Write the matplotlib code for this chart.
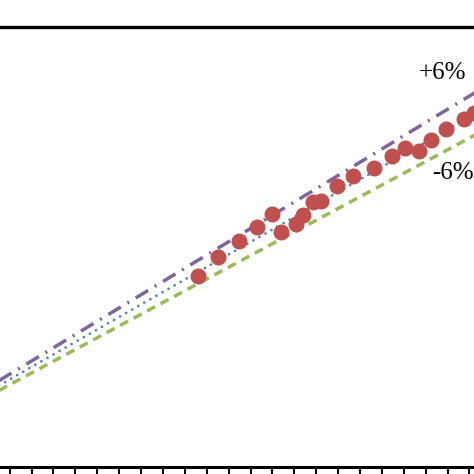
import numpy as np
import matplotlib
matplotlib.use("Agg")
import matplotlib.pyplot as plt

measured = [15.62, 16.53, 17.49, 18.28, 18.97, 19.38, 20.08, 20.41, 20.87, 21.21,
            21.97, 22.69, 23.64, 24.45, 25.05, 25.69, 26.24, 26.93, 27.73, 28.21]
predicted = [15.28, 16.78, 18.10, 19.22, 20.24, 18.80, 19.42, 20.16, 21.18, 21.30,
             22.52, 23.28, 23.94, 24.88, 25.50, 25.28, 26.20, 27.08, 27.88, 28.36]

# reference lines: y = x and +/- 6 %
ref_x = np.array([0, 40])
band = 0.06

fig = plt.figure(figsize=(4.74, 4.74), dpi=100)
ax = fig.add_axes([0, 7 / 474, 1, 440 / 474])

ax.plot(ref_x, ref_x * (1 + band), color="#8064A2", lw=2.5,
        dashes=(4.2, 2.2, 0.6, 2.2), zorder=2)
ax.plot(ref_x, ref_x, color="#4F81BD", lw=2.0, dashes=(0.01, 2.5),
        dash_capstyle="round", zorder=2)
ax.plot(ref_x, ref_x * (1 - band), color="#9BBB59", lw=2.5,
        dashes=(2.6, 1.8), zorder=2)

ax.plot(measured, predicted, "o", color="#C0504D", markersize=10.5,
        markeredgecolor="#C0504D", zorder=3)

ax.text(26.75, 31.5, "+6%", fontsize=18, family="Liberation Serif",
        ha="center", va="center")
ax.text(26.3, 23.5, "-6%", fontsize=18, family="Liberation Serif",
        ha="left", va="center")

ax.set_xlim(143.7 / 21.9, (474 + 143.7) / 21.9)
ax.set_ylim(0, 35.2)
ax.set_xticks(np.arange(7, 29))
ax.set_xticklabels([])
ax.set_yticks([])
ax.tick_params(axis="x", direction="out", length=5, width=1.4, color="black")
for side in ["left", "right"]:
    ax.spines[side].set_visible(False)
ax.spines["top"].set_linewidth(2.4)
ax.spines["bottom"].set_linewidth(2.2)

fig.savefig("out.png", dpi=100)
